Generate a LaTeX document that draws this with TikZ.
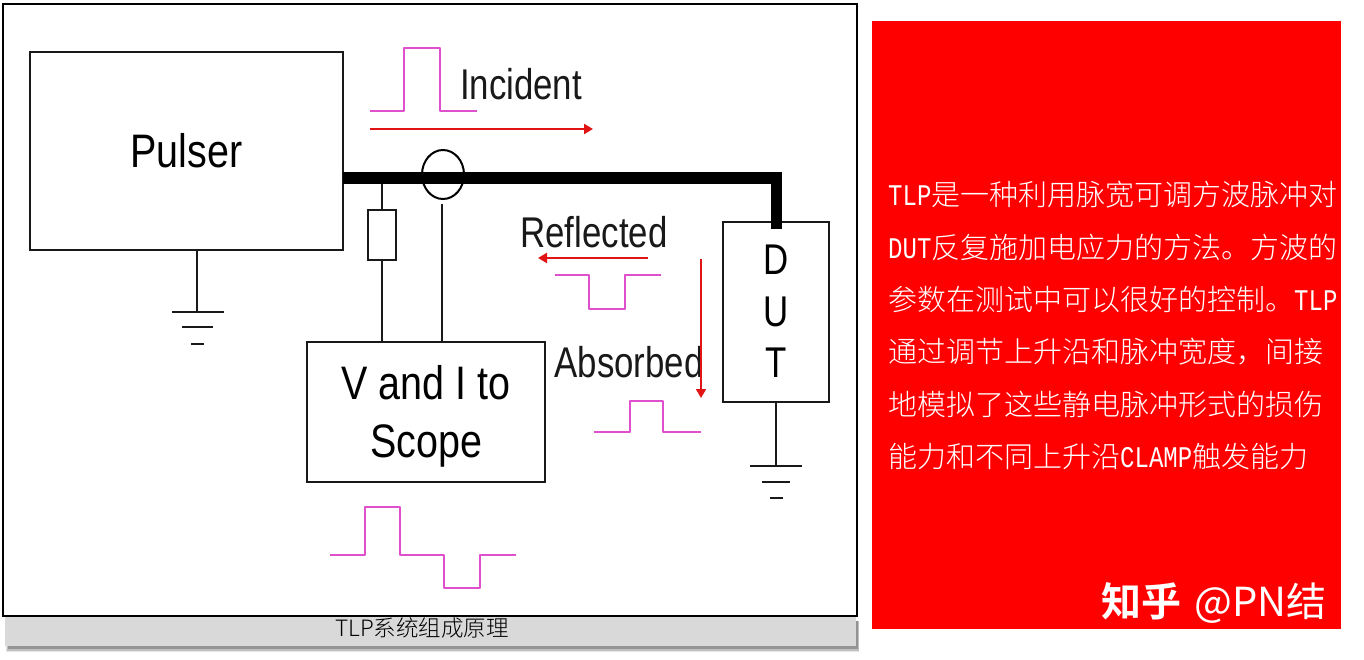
\documentclass[tikz,border=0pt]{standalone}
\usepackage{fontspec}
\usetikzlibrary{arrows.meta,shapes.geometric}
\setmainfont{Liberation Sans}
\newfontfamily\lab[FakeStretch=0.81]{Liberation Sans}
\newfontfamily\labw[FakeStretch=0.84]{Liberation Sans}
\newfontfamily\cjk{Noto Sans CJK SC}
\newfontfamily\cjkl{Noto Sans CJK SC Light}
\newfontfamily\cjkb{Noto Sans CJK SC Bold}
\newfontfamily\mono[FakeStretch=0.8]{Liberation Mono}
\newcommand{\Lt}[1]{{\mono\fontsize{30}{30}\selectfont #1}}
\definecolor{pulsecol}{HTML}{E050CC}
\definecolor{arrowcol}{HTML}{E01414}
\definecolor{capgrey}{HTML}{D9D9D9}
\definecolor{redpanel}{HTML}{FF0000}
\tikzset{
  wire/.style={draw=black!90,line width=2pt},
  thick wire/.style={draw=black,line width=12pt},
  box/.style={draw=black!90,line width=2pt,fill=white,inner sep=0pt,align=center,
    font=\labw\fontsize{47}{58}\selectfont},
  lbl/.style={inner sep=0pt,font=\lab\fontsize{43}{50}\selectfont,text=black!90},
  pulse/.style={draw=pulsecol,line width=2.4pt,line join=round},
  flow/.style={draw=arrowcol,line width=2.8pt,-{Triangle[length=9pt,width=10pt]}},
  para/.style={anchor=base west,inner sep=0pt,text=white,font=\cjkl\fontsize{29}{29}\selectfont},
}
\begin{document}
\begin{tikzpicture}[x=1pt,y=-1pt]
\useasboundingbox (0,0) rectangle (1364,659);
\fill[white] (0,0) rectangle (1364,659);
% caption bar and shadow
\fill[black!10] (6,621) rectangle (859,652);
\fill[black!25] (7,621) rectangle (858.5,650.5);
\fill[black!42] (8,621) rectangle (857.5,649);
\fill[capgrey] (5,616) rectangle (856,646);
\node[draw=black,line width=2pt,fill=white,minimum width=854pt,minimum height=612pt,inner sep=0pt] (frame) at (430,310) {};
\node[inner sep=0pt,font=\cjkl\fontsize{22.5}{23}\selectfont,text=black] (cap) at (422,628) {TLP系统组成原理};
% red panel
\node[fill=redpanel,minimum width=469pt,minimum height=608pt,inner sep=0pt] (panel) at (1106.5,325) {};
\node[para] (l1) at (888,205) {\Lt{TLP}是一种利用脉宽可调方波脉冲对};
\node[para] (l2) at (888,258) {\Lt{DUT}反复施加电应力的方法。方波的};
\node[para] (l3) at (888,310) {参数在测试中可以很好的控制。\Lt{TLP}};
\node[para] (l4) at (888,362) {通过调节上升沿和脉冲宽度，间接};
\node[para] (l5) at (888,415) {地模拟了这些静电脉冲形式的损伤};
\node[para] (l6) at (888,467) {能力和不同上升沿\Lt{CLAMP}触发能力};
\node[anchor=base east,inner sep=0pt,text=white,font=\cjk\fontsize{40}{40}\selectfont] (mark) at (1327,616) {{\cjkb 知乎}\hspace{4pt} @PN结};
% boxes
\node[box,minimum width=313pt,minimum height=198pt] (pulser) at (186.5,151) {Pulser};
\node[box,minimum width=238pt,minimum height=140pt] (scope) at (426,412) {};
\node[inner sep=0pt,align=center,font=\labw\fontsize{47}{58}\selectfont] (scopetext) at (426,416) {V and I to\\Scope};
\node[box,minimum width=106pt,minimum height=180pt] (dut) at (776,312) {};
\node[inner sep=0pt,font=\lab\fontsize{43}{43}\selectfont] (d) at (776,260) {D};
\node[inner sep=0pt,font=\lab\fontsize{43}{43}\selectfont] (u) at (776,312) {U};
\node[inner sep=0pt,font=\lab\fontsize{43}{43}\selectfont] (t) at (776,363) {T};
\node[draw=black!90,line width=2pt,minimum width=28pt,minimum height=50pt,inner sep=0pt] (res) at (382,235) {};
\node[draw=black,line width=2pt,ellipse,minimum width=42pt,minimum height=49pt,inner sep=0pt] (probe) at (443,174.5) {};
% thick line
\coordinate (tl) at (343,178);
\coordinate (tc) at (776,178);
\coordinate (td) at (776,229);
\draw[thick wire] (tl) -- (782,178);
\draw[draw=black,line width=11pt] (tc) -- (td);
% thin wires
\coordinate (rt) at (382,184);
\draw[wire] (rt) -- (res.north);
\draw[wire] (res.south) -- (382,342);
\coordinate (pb) at (442,204);
\draw[wire] (pb) -- (442,342);
% grounds
\coordinate (g1) at (197,312);
\draw[wire] (197,250) -- (g1);
\draw[wire] (172,312) -- (224,312);
\draw[wire] (182,327) -- (213,327);
\draw[wire] (191,344) -- (204,344);
\coordinate (g2) at (776,466);
\draw[wire] (dut.south) -- (g2);
\draw[wire] (750,466) -- (802,466);
\draw[wire] (762,482) -- (790,482);
\draw[wire] (770,498) -- (783,498);
% labels
\node[lbl] (inc) at (521,84) {Incident};
\node[lbl] (ref) at (594,232) {Reflected};
\node[lbl] (abs) at (629,362) {Absorbed};
% pulses
\draw[pulse] (370,111) -- (404,111) -- (404,48) -- (440,48) -- (440,111) -- (477,111);
\draw[pulse] (555,275) -- (589,275) -- (589,309) -- (625,309) -- (625,275) -- (661,275);
\draw[pulse] (594,432) -- (630,432) -- (630,401) -- (663,401) -- (663,432) -- (701,432);
\draw[pulse] (330,555) -- (365,555) -- (365,507) -- (400,507) -- (400,555) -- (444,555) -- (444,588) -- (480,588) -- (480,555) -- (516,555);
% arrows
\coordinate (a1s) at (370,129); \coordinate (a1e) at (593,129);
\coordinate (a2s) at (648,258); \coordinate (a2e) at (538,258);
\coordinate (a3s) at (701,259); \coordinate (a3e) at (701,398);
\draw[flow] (a1s) -- (a1e);
\draw[flow] (a2s) -- (a2e);
\draw[flow,line width=1.8pt] (a3s) -- (a3e);
\end{tikzpicture}
\end{document}
